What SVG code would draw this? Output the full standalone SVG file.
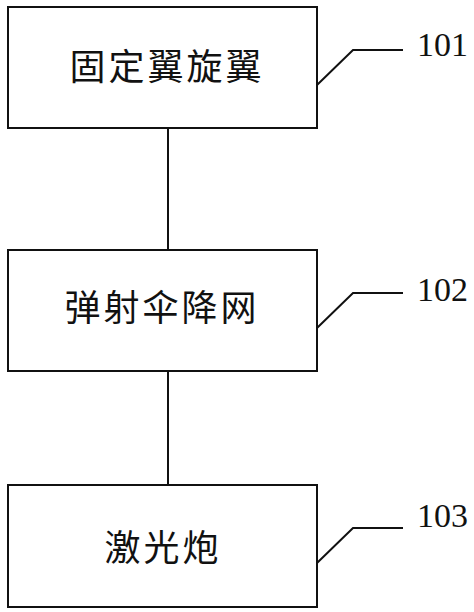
<svg xmlns="http://www.w3.org/2000/svg" width="474" height="612" viewBox="0 0 474 612">
<style>
.box{fill:#fff;stroke:#111;stroke-width:2}
.lbl{font-family:"Noto Sans CJK SC","Noto Sans CJK JP",sans-serif;font-size:36px;letter-spacing:3px;fill:#111;text-anchor:middle}
.num{font-family:"Liberation Serif",serif;font-size:34px;fill:#111}
.ln{stroke:#111;stroke-width:2;fill:none}
</style>
<rect width="474" height="612" fill="#fff"/>
<g id="connectors">
<line class="ln" x1="168" y1="128" x2="168" y2="250"/>
<line class="ln" x1="168" y1="371" x2="168" y2="485"/>
</g>
<g id="n101">
<rect class="box" x="8" y="7" width="309" height="121"/>
<text class="lbl" x="167" y="80">固定翼旋翼</text>
<polyline class="ln" points="317,85 353,50 403,50"/>
<text class="num" x="417" y="56">101</text>
</g>
<g id="n102">
<rect class="box" x="8" y="250" width="309" height="121"/>
<text class="lbl" x="162" y="321">弹射伞降网</text>
<polyline class="ln" points="317,328 353,293 403,293"/>
<text class="num" x="417" y="301">102</text>
</g>
<g id="n103">
<rect class="box" x="8" y="485" width="309" height="122"/>
<text class="lbl" x="163" y="561">激光炮</text>
<polyline class="ln" points="317,563 353,528 403,528"/>
<text class="num" x="417" y="527">103</text>
</g>
</svg>
